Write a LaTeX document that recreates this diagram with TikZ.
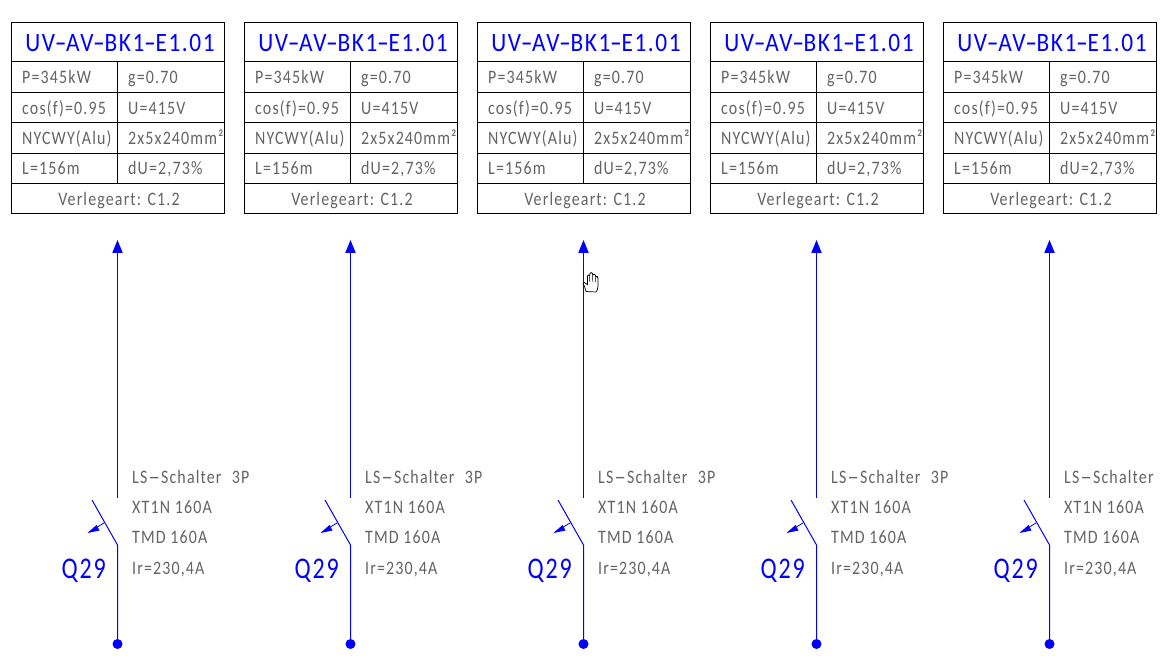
\documentclass[tikz,border=0pt]{standalone}
\usepackage{fontspec}
\newfontfamily\bodyfont[LetterSpace=6,FakeStretch=0.84]{Carlito}
\newfontfamily\titlefont[LetterSpace=6,FakeStretch=0.88]{Carlito}
\newfontfamily\qfont[LetterSpace=6,FakeStretch=0.8]{Carlito}
\newcommand{\wdash}{\kern1.5pt\scalebox{2.2}[1]{-}\kern1.5pt}
\newcommand{\tdash}{\kern0.2pt\scalebox{1.5}[1]{-}\kern0.2pt}
\definecolor{cadblue}{RGB}{0,0,255}
\definecolor{cadgray}{RGB}{100,100,100}
\tikzset{
  txt/.style={inner sep=0pt,text=cadgray,font=\bodyfont\fontsize{19}{21}\selectfont,anchor=base west},
  ctxt/.style={inner sep=0pt,text=cadgray,font=\bodyfont\fontsize{19}{21}\selectfont,anchor=base},
  title/.style={inner sep=0pt,text=cadblue,font=\titlefont\fontsize{26.5}{28}\selectfont,anchor=base},
  qlabel/.style={inner sep=0pt,text=cadblue,font=\qfont\fontsize{30}{32}\selectfont,anchor=base west},
  grid/.style={draw=black,line width=0.9pt},
  wire/.style={draw=cadblue,line width=1pt},
  tipfill/.style={fill=cadblue,draw=none}
}
\begin{document}
\begin{tikzpicture}[x=1pt,y=-1pt]
\useasboundingbox (0,0) rectangle (1164,668);
\clip (0,0) rectangle (1164,668);
\fill[white] (0,0) rectangle (1164,668);
\foreach \i [evaluate=\i as \ox using {(\i-1)*233}] in {1,...,5}{
\begin{scope}[xshift=\ox pt]
  % table
  \draw[grid] (11,22) rectangle (224.5,213.5);
  \draw[grid] (11,61.5) -- (224.5,61.5) (11,92.5) -- (224.5,92.5) (11,122.5) -- (224.5,122.5) (11,153.5) -- (224.5,153.5) (11,183.5) -- (224.5,183.5);
  \draw[grid] (117.5,61.5) -- (117.5,183.5);
  \node[title] (t\i) at (120,51.5) {UV\tdash AV\tdash BK1\tdash E1.01};
  \node[txt] (a\i) at (22,84) {P=345kW};
  \node[txt] (b\i) at (128,84) {g=0.70};
  \node[txt] (c\i) at (22,114.5) {cos(f)=0.95};
  \node[txt] (d\i) at (128,114.5) {U=415V};
  \node[txt] (e\i) at (22,145) {NYCWY(Alu)};
  \node[txt] (f\i) at (128,145) {2x5x240mm²};
  \node[txt] (g\i) at (22,175) {L=156m};
  \node[txt] (h\i) at (128,175) {dU=2,73\%};
  \node[ctxt] (v\i) at (119,205.5) {Verlegeart: C1.2};
  % wiring
  \coordinate (top\i) at (117.5,240);
  \coordinate (neck\i) at (117.5,252);
  \coordinate (sw\i) at (117.5,498);
  \coordinate (pa\i) at (92,500);
  \coordinate (pb\i) at (117.5,545);
  \coordinate (ba\i) at (104,523);
  \coordinate (bb\i) at (89,532);
  \coordinate (dot\i) at (117.5,644);
  \draw[wire] (neck\i) -- (sw\i);
  \fill[tipfill] (top\i) -- (122.8,253) -- (112.2,253) -- cycle;
  \draw[wire] (pa\i) -- (pb\i) -- (dot\i);
  \draw[wire,line width=0.8pt] (ba\i) -- (bb\i);
  \fill[tipfill] (87.5,533) -- (96.5,525) -- (99.5,530.5) -- cycle;
  \fill[tipfill] (dot\i) circle (5pt);
  \node[txt] (l1\i) at (132,483) {LS\wdash Schalter\kern5.5pt\ 3P};
  \node[txt] (l2\i) at (132,513) {XT1N 160A};
  \node[txt] (l3\i) at (132,543) {TMD 160A};
  \node[txt] (l4\i) at (132,574) {Ir=230,4A};
  \node[qlabel] (q\i) at (61.5,578.5) {Q29};
\end{scope}
}
% hand cursor
\begin{scope}[shift={(583,272)}]
  \draw[black,fill=white,line width=0.7pt,line join=round]
    (3,19.5) -- (1.5,14.5) -- (0,11.5) .. controls (0,10) and (2,10) .. (3,11.5) -- (4.5,13) -- (4.5,4)
    .. controls (4.5,2.5) and (6.5,2.5) .. (6.5,4) -- (7,1.5) .. controls (7.5,0.2) and (9.5,0.2) .. (9.5,1.5)
    -- (10,3) .. controls (10.5,1.8) and (12.2,1.8) .. (12.5,3.5) -- (13,5) .. controls (13.5,4) and (15,4) .. (15,6)
    -- (15,14) .. controls (15,17) and (14,19) .. (13,20) -- cycle;
  \draw[black,line width=0.5pt] (6.5,4) -- (6.8,10) (9.5,2) -- (9.8,10) (12.5,4) -- (12.7,10);
\end{scope}
\end{tikzpicture}
\end{document}
